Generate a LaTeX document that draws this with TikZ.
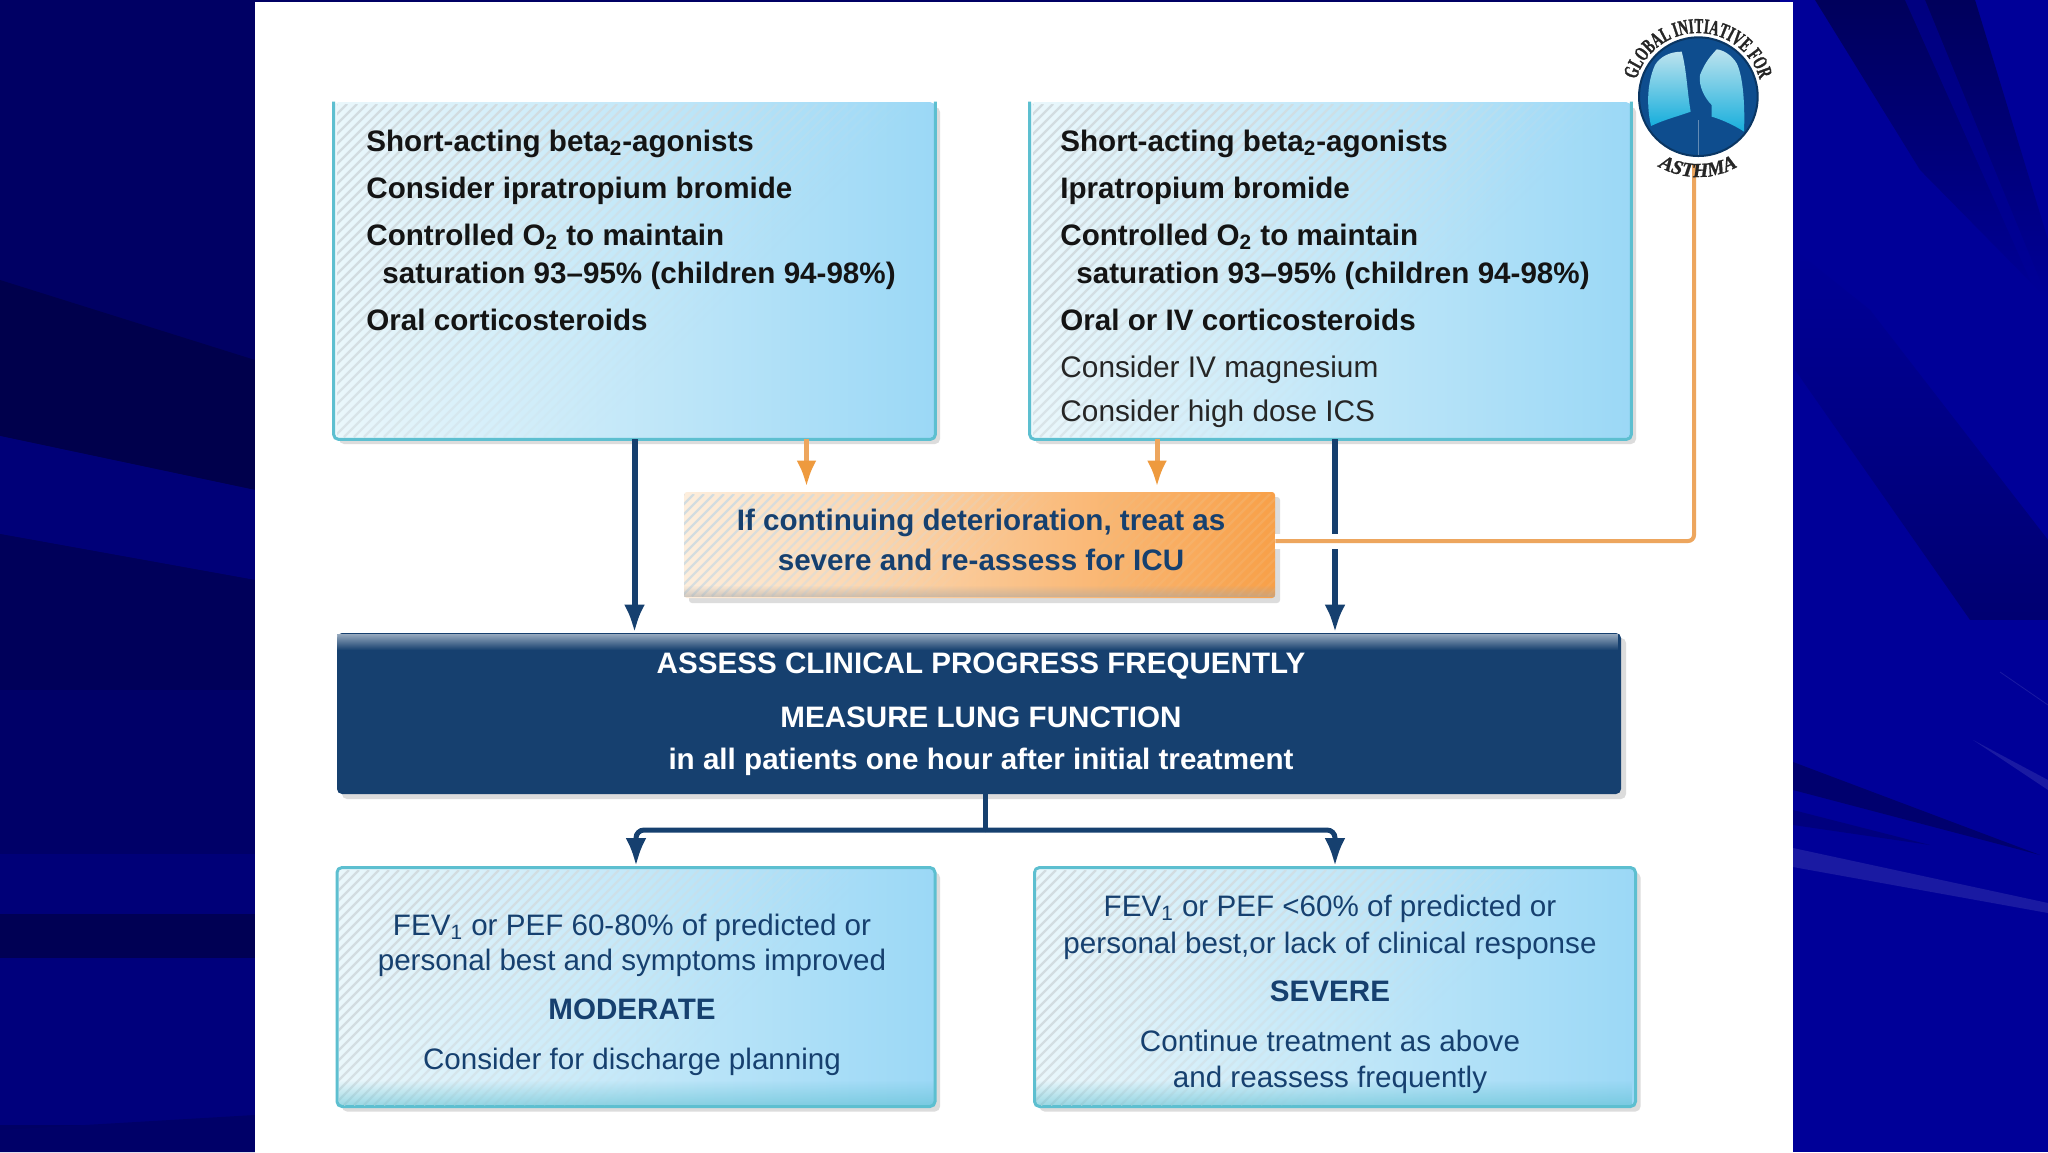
\documentclass[tikz,border=0pt]{standalone}
\usepackage{fontspec}
\usetikzlibrary{arrows.meta,shadows,decorations.text,fadings}
\setmainfont{Liberation Sans}
\newfontfamily\logoserif[FakeStretch=0.62,FakeBold=1.2]{Liberation Serif}
\newfontfamily\logoserifw[FakeBold=1]{Liberation Serif}
\definecolor{navy}{HTML}{16406F}
\definecolor{boxborder}{HTML}{5DBFD0}
\definecolor{boxlight}{HTML}{EAF7FB}
\definecolor{boxblue}{HTML}{9BD8F6}
\definecolor{hatchgrey}{HTML}{D2DCE0}
\definecolor{orangeline}{HTML}{EDA65E}
\definecolor{orangehead}{HTML}{EE9A3E}
\definecolor{orangelight}{HTML}{FDEEDD}
\definecolor{orangedeep}{HTML}{F8A048}
\definecolor{lunglight}{HTML}{BDE3EE}
\definecolor{lungcyan}{HTML}{16AEDC}
\definecolor{logoblue}{HTML}{0E4D8E}
\definecolor{bgA}{HTML}{000064}
\definecolor{bgB}{HTML}{00004C}
\definecolor{bgC}{HTML}{000078}
\definecolor{bgD}{HTML}{00005A}
\definecolor{bgE}{HTML}{000068}
\definecolor{bgF}{HTML}{000054}
\definecolor{bgG}{HTML}{00007C}
\definecolor{bgright}{HTML}{000098}
\definecolor{bgdark}{HTML}{00005C}
\definecolor{bgmid}{HTML}{00006E}
\definecolor{bgstreak}{HTML}{1A1AA2}
\tikzset{
  softshadow/.style={drop shadow={shadow xshift=2.5pt,shadow yshift=-2.5pt,fill=black!45,opacity=.3}},
  bluebox/.style={rectangle,rounded corners=2.5pt,inner sep=0pt,left color=boxlight,right color=boxblue,softshadow},
  framed/.style={draw=boxborder,line width=1.5pt},
  border/.style={draw=boxborder,line width=1.5pt,rounded corners=2.5pt},
  orangebox/.style={rectangle,rounded corners=1.5pt,inner sep=0pt,left color=orangelight,middle color=orange!35!orangelight,right color=orangedeep,softshadow},
  darkbox/.style={rectangle,rounded corners=2.5pt,inner sep=0pt,fill=navy,softshadow},
  bb/.style={anchor=base west,inner sep=0pt,font=\fontsize{14.8}{16}\selectfont\bfseries,text=black!92},
  rr/.style={anchor=base west,inner sep=0pt,font=\fontsize{14.9}{16}\selectfont,text=black!85},
  cn/.style={anchor=base,inner sep=0pt,font=\fontsize{14.8}{16}\selectfont,text=navy},
  cb/.style={anchor=base,inner sep=0pt,font=\fontsize{14.8}{16}\selectfont\bfseries,text=navy},
  wb/.style={anchor=base,inner sep=0pt,font=\fontsize{14.8}{16}\selectfont\bfseries,text=white},
  navyline/.style={draw=navy,line width=3pt},
  navyarrow/.style={navyline,-{Latex[length=14pt,width=10.5pt]}},
  orangearrow/.style={draw=orangeline,line width=2.5pt,-{Latex[length=13pt,width=10pt,color=orangehead]}},
  orangewire/.style={draw=orangeline,line width=2pt,rounded corners=3pt},
}
% hatch: x0 y0 x1 y1 fade-extent colour base-opacity
\newcommand{\hatchfill}[7]{%
  \begin{scope}
    \clip (#1,#2) rectangle (#3,#4);
    \pgfmathsetmacro{\hh}{#4-#2}
    \pgfmathtruncatemacro{\nn}{(#3-#1+\hh)/10}
    \foreach \i in {0,...,\nn}{
      \pgfmathsetmacro{\xa}{#1-\hh+10*\i}
      \pgfmathsetmacro{\oo}{#7*max(0,1-(10*\i-\hh/2)/#5)}
      \pgfmathsetmacro{\oc}{min(1,\oo)}
      \draw[#6,opacity=\oc,line width=1.1pt] (\xa,#4) -- (\xa+\hh,#2);
    }
  \end{scope}}
\newcommand{\bottomband}[5]{%
  \fill[#5,path fading=north,opacity=.55] (#1,#3) rectangle (#2,#4);}
\begin{document}
\begin{tikzpicture}[x=0.5pt,y=-0.5pt]
\useasboundingbox (0,0) rectangle (2048,1152);
% background
\fill[bgA] (0,0) rectangle (2048,1152);
\fill[bgright] (1780,0) rectangle (2048,1152);
\fill[bgB] (0,280) -- (255,360) -- (255,490) -- (0,436) -- cycle;
\fill[bgC] (0,436) -- (255,490) -- (255,580) -- (0,534) -- cycle;
\fill[bgD] (0,534) -- (255,580) -- (255,690) -- (0,690) -- cycle;
\fill[bgE] (0,690) rectangle (255,854);
\fill[bgC] (0,854) rectangle (255,914);
\fill[bgF] (0,914) rectangle (255,958);
\fill[bgG] (0,958) rectangle (255,1125);
\fill[bgE] (0,1130) -- (255,1115) -- (255,1152) -- (0,1152) -- cycle;
\fill[bgdark,path fading=south] (1815,0) -- (1975,0) -- (2048,240) -- (2048,300) -- (1920,170) -- cycle;
\fill[bgright,opacity=.6] (1905,0) -- (1925,0) -- (2048,300) -- (2048,320) -- cycle;
\fill[bgmid,path fading=north,opacity=.9] (1795,250) -- (1870,310) -- (2048,540) -- (2048,620) -- (1970,620) -- (1795,370) -- cycle;
\fill[bgmid] (1793,762) -- (2040,855) -- (1793,790) -- cycle;
\fill[bgmid,opacity=.6] (1793,810) -- (1930,845) -- (1793,825) -- cycle;
\fill[bgstreak] (1793,848) -- (2048,903) -- (2048,913) -- (1793,867) -- cycle;
\fill[bgstreak] (1973,740) -- (2048,780) -- (2048,790) -- cycle;
\draw[color=bgstreak,line width=.4pt] (2000,672) -- (2048,705);
% white panel
\fill[white] (255,2) rectangle (1793,1152);
% boxes
\node[bluebox,minimum width=300.5pt,minimum height=168.5pt] (lt) at (634.5,270.5) {};
\node[bluebox,minimum width=300.5pt,minimum height=168.5pt] (rt) at (1330.5,270.5) {};
\node[bluebox,framed,minimum width=299pt,minimum height=119.5pt] (bl) at (636,987) {};
\node[bluebox,framed,minimum width=300.5pt,minimum height=119.5pt] (br) at (1335,987) {};
\node[orangebox,minimum width=295.5pt,minimum height=53pt] (ob) at (979.5,545) {};
\node[darkbox,minimum width=642pt,minimum height=80.5pt] (db) at (979,713.5) {};
% box surface detail
\hatchfill{337}{104}{933}{437}{420}{hatchgrey}{1.1}
\hatchfill{1033}{104}{1629}{437}{420}{hatchgrey}{1.1}
\hatchfill{339}{870}{934}{1105}{420}{hatchgrey}{1.1}
\hatchfill{1036}{870}{1632}{1105}{420}{hatchgrey}{1.1}
\hatchfill{684}{494}{1275}{596}{330}{hatchgrey}{1}
\hatchfill{1100}{494}{1275}{596}{400}{orangehead!70!white}{.6}
\bottomband{339}{934}{1080}{1105}{boxborder}
\bottomband{1036}{1632}{1080}{1105}{boxborder}
\bottomband{684}{1275}{585}{597}{black!35}
\fill[white!55!navy,path fading=south] (338,634) rectangle (1620,650);
\draw[border] (lt.north west) -- (lt.south west) -- (lt.south east) -- (lt.north east);
\draw[border] (rt.north west) -- (rt.south west) -- (rt.south east) -- (rt.north east);
% connectors
\draw[navyarrow] (lt.south) -- (lt.south |- db.north);
\draw[navyarrow] ([xshift=2.25pt]rt.south) -- ([xshift=2.25pt]rt.south |- db.north);
\draw[orangearrow,shorten >=2.5pt] ([xshift=86pt]lt.south) -- ([xshift=86pt]lt.south |- ob.north);
\draw[orangearrow,shorten >=2.5pt] ([xshift=-86.75pt]rt.south) -- ([xshift=-86.75pt]rt.south |- ob.north);
\coordinate (bus) at (985,830);
\coordinate (wiretop) at (1694,165);
\draw[white,line width=7.5pt] ([yshift=2pt]ob.east) -- ([yshift=2pt]ob.east -| wiretop);
\draw[orangewire] ([yshift=2pt]ob.east) -| (wiretop);
\draw[navy,line width=2.5pt] (db.south -| bus) -- (bus);
\draw[navyarrow,line width=2.5pt,rounded corners=4pt] (bus) -| (bl.north);
\draw[navyarrow,line width=2.5pt,rounded corners=4pt] (bus) -| (br.north);
% texts
\node[bb] (l1) at (366,151) {Short-acting beta\textsubscript{2}-agonists};
\node[bb] (l2) at (366,198) {Consider ipratropium bromide};
\node[bb] (l3) at (366,245) {Controlled O\textsubscript{2} to maintain};
\node[bb] (l4) at (382,283) {saturation 93–95\% (children 94-98\%)};
\node[bb] (l5) at (366,330) {Oral corticosteroids};
\node[bb] (r1) at (1060,151) {Short-acting beta\textsubscript{2}-agonists};
\node[bb] (r2) at (1060,198) {Ipratropium bromide};
\node[bb] (r3) at (1060,245) {Controlled O\textsubscript{2} to maintain};
\node[bb] (r4) at (1076,283) {saturation 93–95\% (children 94-98\%)};
\node[bb] (r5) at (1060,330) {Oral or IV corticosteroids};
\node[rr] (r6) at (1060,377) {Consider IV magnesium};
\node[rr] (r7) at (1060,421) {Consider high dose ICS};
\node[cb] (o1) at (981,530) {If continuing deterioration, treat as};
\node[cb] (o2) at (981,570) {severe and re-assess for ICU};
\node[wb] (d1) at (981,673) {ASSESS CLINICAL PROGRESS FREQUENTLY};
\node[wb] (d2) at (981,727) {MEASURE LUNG FUNCTION};
\node[wb] (d3) at (981,769) {in all patients one hour after initial treatment};
\node[cn] (b1) at (632,935) {FEV\textsubscript{1} or PEF 60-80\% of predicted or};
\node[cn] (b2) at (632,970) {personal best and symptoms improved};
\node[cb] (b3) at (632,1019) {MODERATE};
\node[cn] (b4) at (632,1069) {Consider for discharge planning};
\node[cn] (c1) at (1330,916) {FEV\textsubscript{1} or PEF <60\% of predicted or};
\node[cn] (c2) at (1330,953) {personal best,or lack of clinical response};
\node[cb] (c3) at (1330,1001) {SEVERE};
\node[cn] (c4) at (1330,1051) {Continue treatment as above};
\node[cn] (c5) at (1330,1087) {and reassess frequently};
% logo
\begin{scope}[shift={(1580,0)},x=0.16667pt,y=-0.16667pt]
  \fill[logoblue] (355,290) circle[radius=178];
  \draw[color=logoblue!70!black,line width=1pt] (355,290) circle[radius=178];
  \shade[top color=lunglight,bottom color=lungcyan] (305,155) .. controls (320,210) and (322,280) .. (332,335) .. controls (290,350) and (250,360) .. (213,378) .. controls (200,320) and (200,250) .. (225,195) .. controls (240,170) and (270,155) .. (305,155) -- cycle;
  \shade[top color=lunglight,bottom color=lungcyan] (410,148) .. controls (395,165) and (375,185) .. (360,225) .. controls (355,260) and (375,295) .. (395,315) -- (395,350) .. controls (430,360) and (470,380) .. (492,395) .. controls (495,320) and (490,230) .. (470,190) .. controls (455,165) and (430,150) .. (410,148) -- cycle;
  \draw[color=white,opacity=.35,line width=.4pt] (355,360) -- (355,465);
\end{scope}
\begin{scope}[shift={(1698,97)},x=0.5pt,y=0.5pt]
  \path[decorate,decoration={text along path,text align=center,text={|\logoserif\bfseries\fontsize{10.6}{11}\selectfont\color{black!85}|GLOBAL INITIATIVE FOR}}] (180:32pt) arc[start angle=180,end angle=0,radius=32pt];
  \path[decorate,decoration={text along path,text align=center,text={|\logoserifw\bfseries\itshape\fontsize{10}{11}\selectfont\color{black!85}|ASTHMA}}] (230:40pt) arc[start angle=230,end angle=310,radius=40pt];
\end{scope}
\end{tikzpicture}
\end{document}
